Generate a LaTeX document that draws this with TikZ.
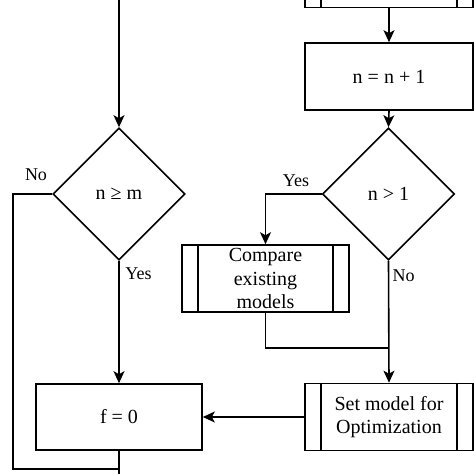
\documentclass[tikz,border=0pt]{standalone}
\usepackage{fontspec}
\setmainfont{Liberation Serif}
\usetikzlibrary{shapes.geometric,arrows.meta}
\tikzset{
  x=1pt,y=-1pt,
  line/.style={line width=1.6pt},
  arr/.style={line, -{Stealth[length=12pt,width=11pt,inset=3pt]}},
  procbox/.style={draw, line width=1.6pt, rectangle, minimum width=168pt, minimum height=67pt, inner sep=0pt, align=center, font=\fontsize{20}{23.5}\selectfont},
  subproc/.style={procbox, append after command={
      \pgfextra{\let\mynode\tikzlastnode}
      ([xshift=17pt]\mynode.north west) edge[line] ([xshift=17pt]\mynode.south west)
      ([xshift=-17pt]\mynode.north east) edge[line] ([xshift=-17pt]\mynode.south east)}},
  decision/.style={draw, line width=1.6pt, diamond, aspect=1, minimum width=132pt, minimum height=132pt, inner sep=0pt, font=\fontsize{20}{23}\selectfont},
  lbl/.style={font=\fontsize{18}{20}\selectfont, inner sep=0pt}
}
\begin{document}
\begin{tikzpicture}
\useasboundingbox (0,0) rectangle (474,474);
\clip (0,0) rectangle (474,474);
% nodes
\node[subproc] (prev) at (389,-26) {};
\node[procbox] (inc) at (389,76.5) {n = n + 1};
\node[decision] (dgt) at (388.5,194) {n > 1};
\node[decision] (dge) at (119,194) {n ≥ m};
\node[subproc, minimum width=167pt] (cmp) at (265.5,278.5) {Compare\\existing\\models};
\node[subproc] (set) at (389,417) {Set model for\\Optimization};
\node[procbox, minimum width=166pt, minimum height=66pt] (f0) at (119,417) {f = 0};
\coordinate (topin) at (119,0);
\coordinate (bend1) at (265.5,194);
\coordinate (join) at (388.5,348);
\coordinate (cmpturn) at (265.5,348);
\coordinate (loopA) at (13,194);
\coordinate (loopB) at (13,469);
\coordinate (loopC) at (119,469);
\coordinate (bottomout) at (119,480);
% connectors
\draw[arr] (topin) -- (dge.north);
\draw[arr] (prev.south -| inc.north) -- (inc.north);
\draw[arr] (inc.south) -- (dgt.north);
\draw[arr] (dgt.west) -- (bend1) -- (cmp.north);
\draw[arr] (dgt.south) -- (set.north);
\draw[line] (cmp.south) -- (cmpturn) -- (join);
\draw[arr] (dge.south) -- (f0.north);
\draw[arr] (set.west) -- (f0.east);
\draw[line] (dge.west) -- (loopA) -- (loopB) -- (loopC);
\draw[line] (f0.south) -- (bottomout);
% labels
\node[lbl] (lno1) at (36,175) {No};
\node[lbl] (lyes1) at (296,181) {Yes};
\node[lbl] (lyes2) at (138.5,274) {Yes};
\node[lbl] (lno2) at (403.5,276) {No};
\end{tikzpicture}
\end{document}
